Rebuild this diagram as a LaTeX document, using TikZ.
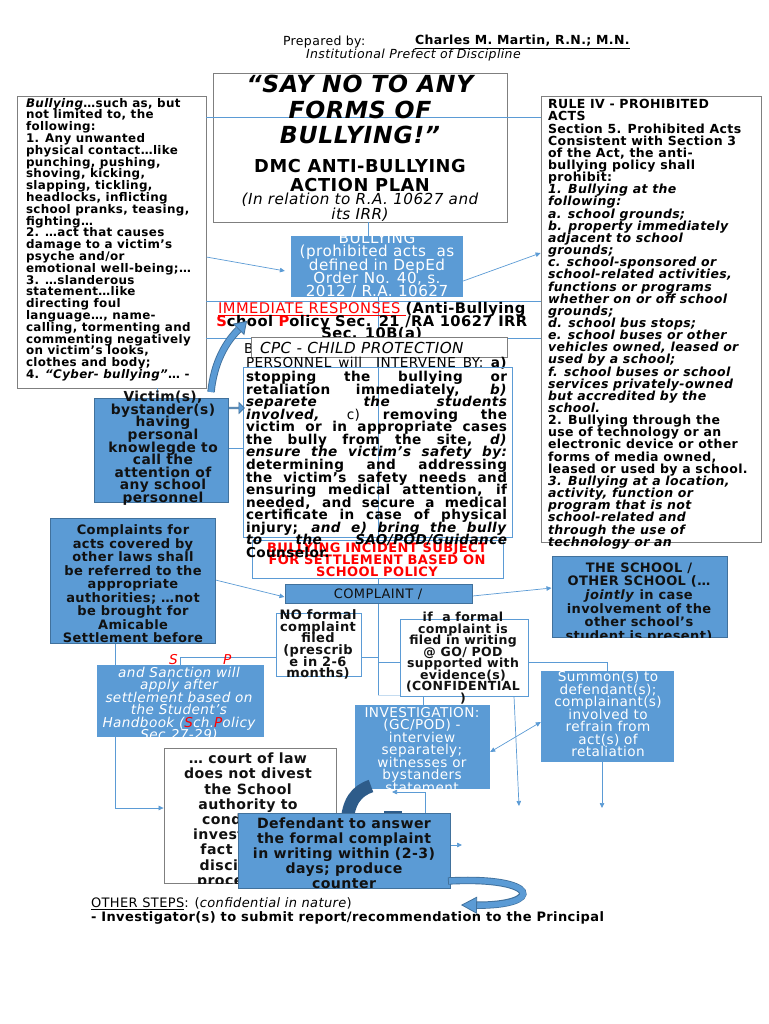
\documentclass[tikz,border=0pt]{standalone}
\usepackage{fontspec}
\setmainfont{DejaVu Sans}[LetterSpace=3]
\usetikzlibrary{arrows.meta,shapes.arrows}
\definecolor{bfill}{HTML}{5B9BD5}
\definecolor{bdark}{HTML}{41719C}
\definecolor{lnc}{HTML}{5B9BD5}
\definecolor{gbord}{HTML}{7F7F7F}
\definecolor{txtd}{HTML}{111111}
\definecolor{arcd}{HTML}{2E5C8A}
\definecolor{redt}{HTML}{FF0000}
\pgfdeclarelayer{bgbox}
\pgfdeclarelayer{lines}
\pgfsetlayers{bgbox,lines,main}
\newcommand{\fz}[2]{\fontsize{#1}{#2}\selectfont\lineskiplimit=-50pt\relax}
\newcommand{\mkbox}[6]{\node[#1, minimum width={#5-#3}, minimum height={#6-#4}] (#2) at ({(#3+#5)/2},{(#4+#6)/2}) {};}
\tikzset{
  wbox/.style={rectangle, draw=gbord, fill=white, line width=0.8pt, inner sep=0},
  bbox/.style={rectangle, fill=bfill, draw=none, inner sep=0},
  bboxd/.style={rectangle, fill=bfill, draw=bdark, line width=1pt, inner sep=0},
  lbbox/.style={rectangle, fill=white, draw=lnc, line width=0.8pt, inner sep=0},
  obox/.style={rectangle, draw=lnc, line width=0.8pt, inner sep=0},
  conn/.style={draw=lnc, line width=0.7pt},
  arr/.style={conn, -{Triangle[length=5pt,width=4.5pt]}},
  arrtwo/.style={conn, {Triangle[length=5pt,width=4.5pt]}-{Triangle[length=5pt,width=4.5pt]}},
  tx/.style={inner sep=0, outer sep=0},
}
\begin{document}
\begin{tikzpicture}[x=1pt,y=-1pt]
\useasboundingbox (0,0) rectangle (768,1024);

\begin{pgfonlayer}{bgbox}
\fill[white] (0,0) rectangle (768,1024);
\mkbox{wbox}{title}{213}{73}{507}{222}
\mkbox{wbox}{lbox}{17}{96}{206}{388}
\mkbox{wbox}{rbox}{541}{96}{761}{542}
\end{pgfonlayer}

% ---------- header ----------
\node[tx, anchor=west, font=\fz{12.5}{13}] (prep) at (283,42) {Prepared by:};
\node[tx, anchor=west, font=\bfseries\fz{12.5}{13}] (auth) at (415,42) {\underline{Charles M. Martin, R.N.; M.N.}};
\node[tx, anchor=west, font=\itshape\fz{12.5}{13}] (inst) at (306,55) {Institutional Prefect of Discipline};

% ---------- title ----------
\node[tx, anchor=north, align=center, font=\bfseries\itshape\fz{23.5}{25.5}] (t1) at (360,75.5) {“SAY NO TO ANY\\FORMS OF\\BULLYING!”};
\node[tx, anchor=north, align=center, font=\bfseries\fz{17.8}{19}] (t2) at (360,158.8) {DMC ANTI-BULLYING\\ACTION PLAN};
\node[tx, anchor=north, align=center, font=\itshape\fz{15.2}{15}] (t3) at (360,193.2) {(In relation to R.A. 10627 and\\its IRR)};

% ---------- left box text ----------
\begin{scope}
\clip (lbox.south west) rectangle (lbox.north east);
\node[tx, anchor=north west, align=left, font=\bfseries\fz{11.9}{11.8}] (lboxt) at (26,98) {\textit{Bullying}…such as, but\\not limited to, the\\following:\\1. Any unwanted\\physical contact…like\\punching, pushing,\\shoving, kicking,\\slapping, tickling,\\headlocks, inflicting\\school pranks, teasing,\\fighting…\\2. …act that causes\\damage to a victim’s\\psyche and/or\\emotional well-being;…\\3. …slanderous\\statement…like\\directing foul\\language…, name-\\calling, tormenting and\\commenting negatively\\on victim’s looks,\\clothes and body;\\4. \textit{“Cyber- bullying”}… -};
\end{scope}

% ---------- right box text ----------
\node[tx, anchor=north west, align=left, font=\bfseries\fz{12.5}{12.15}] (rboxt) at (548,99.5) {RULE IV - PROHIBITED\\ACTS\\Section 5. Prohibited Acts\\Consistent with Section 3\\of the Act, the anti-\\bullying policy shall\\prohibit:\\\textit{1. Bullying at the}\\\textit{following:}\\\textit{a. school grounds;}\\\textit{b. property immediately}\\\textit{adjacent to school}\\\textit{grounds;}\\\textit{c. school-sponsored or}\\\textit{school-related activities,}\\\textit{functions or programs}\\\textit{whether on or off school}\\\textit{grounds;}\\\textit{d. school bus stops;}\\\textit{e. school buses or other}\\\textit{vehicles owned, leased or}\\\textit{used by a school;}\\\textit{f. school buses or school}\\\textit{services privately-owned}\\\textit{but accredited by the}\\\textit{school.}\\2. Bullying through the\\use of technology or an\\electronic device or other\\forms of media owned,\\leased or used by a school.\\\textit{3. Bullying at a location,}\\\textit{activity, function or}\\\textit{program that is not}\\\textit{school-related and}\\\textit{through the use of}\\\textit{technology or an}};

% ---------- bullying box ----------
\mkbox{bbox}{bul}{291}{236}{463}{297}
\node[tx, anchor=north, align=center, text=white, font=\fz{15.2}{13.4}] (bult) at (377,232) {BULLYING\\(prohibited acts\ \ as\\defined in DepEd\\Order No. 40, s.\\2012 / R.A. 10627};

% ---------- immediate responses ----------
\node[tx, anchor=north, align=center, font=\fz{14.7}{12.5}] (imm) at (372,302.8) {\textcolor{redt}{\underline{IMMEDIATE RESPONSES\ }}\textbf{(Anti-Bullying}\\\textbf{\textcolor{redt}{S}chool \textcolor{redt}{P}olicy Sec. 21 /RA 10627 IRR}\\\textbf{Sec. 10B(a)}};

% ---------- CPC ----------
\node[tx, anchor=west, font=\fz{13.6}{13}] (bt) at (244,349) {B};
\mkbox{wbox}{cpch}{251}{337}{507}{357}
\node[tx, anchor=west, font=\itshape\fz{15.2}{15}] (cpcht) at (260,347.5) {CPC - CHILD PROTECTION};
\node[tx, anchor=west, font=\fz{13.6}{13}] (pers) at (246,363) {\makebox[261pt][s]{PERSONNEL will\ \ INTERVENE BY: \textbf{a)}}};
\mkbox{obox}{cpcb}{243}{367}{512}{537}

% bullying incident box
\mkbox{lbbox}{bis}{252}{540}{503}{578}
\node[tx, anchor=north, align=center, text=redt, font=\bfseries\fz{13}{12}] (bist) at (377,542.7) {BULLYING INCIDENT SUBJECT\\FOR SETTLEMENT BASED ON\\SCHOOL POLICY};

\node[tx, anchor=north west, align=left, font=\bfseries\fz{13.6}{12.55}] (cpct) at (246,371.3) {%
\makebox[261pt][s]{stopping the bullying or}\\
\makebox[261pt][s]{retaliation immediately, \textit{b)}}\\
\makebox[261pt][s]{\itshape separete the students}\\
\makebox[261pt][s]{\textit{involved,} \textmd{c)} removing the}\\
\makebox[261pt][s]{victim or in appropriate cases}\\
\makebox[261pt][s]{the bully from the site, \textit{d)}}\\
\makebox[261pt][s]{\itshape ensure the victim's safety by:}\\
\makebox[261pt][s]{determining and addressing}\\
\makebox[261pt][s]{the victim's safety needs and}\\
\makebox[261pt][s]{ensuring medical attention, if}\\
\makebox[261pt][s]{needed, and secure a medical}\\
\makebox[261pt][s]{certificate in case of physical}\\
\makebox[261pt][s]{injury; \textit{and e) bring the bully}}\\
\makebox[261pt][s]{\itshape to the SAO/POD/Guidance}\\
Counselor.};

% ---------- victim ----------
\mkbox{bboxd}{vic}{94}{398}{228}{502}
\node[tx, anchor=north, align=center, text=txtd, font=\bfseries\fz{13.8}{12.6}] (vict) at (163,391.2) {Victim(s),\\bystander(s)\\having\\personal\\knowlegde to\\call the\\attention of\\any school\\personnel};
\node[single arrow, fill=bfill, draw=bdark, line width=0.6pt, minimum height=16pt, minimum width=11pt, single arrow head extend=2pt, inner sep=0] (varr) at (236,408) {};

% ---------- complaints ----------
\mkbox{bboxd}{cmp}{50}{518}{215}{643}
\begin{scope}
\clip (cmp.south west) rectangle (cmp.north east);
\node[tx, anchor=north, align=center, text=txtd, font=\bfseries\fz{13}{13.5}] (cmpt) at (133,525) {Complaints for\\acts covered by\\other laws shall\\be referred to the\\appropriate\\authorities; …not\\be brought for\\Amicable\\Settlement before\\the};
\end{scope}

% ---------- complaint / ----------
\mkbox{bboxd}{cpl}{285}{584}{472}{603}
\node[tx, text=txtd, font=\fz{13}{13}] (cplt) at (378,594) {COMPLAINT /};

% ---------- no formal ----------
\mkbox{lbbox}{nof}{276}{613}{361}{676}
\node[tx, anchor=north, align=center, text=txtd, font=\bfseries\fz{13}{11.7}] (noft) at (318,609.6) {NO formal\\complaint\\filed\\(prescrib\\e in 2-6\\months)};

% ---------- formal ----------
\mkbox{lbbox}{frm}{400}{619}{528}{696}
\node[tx, anchor=north, align=center, text=txtd, font=\bfseries\fz{12.5}{11.5}] (frmt) at (463,612.1) {if\ \ a formal\\complaint is\\filed in writing\\@ GO/ POD\\supported with\\evidence(s)\\(CONFIDENTIAL\\)};

% ---------- the school ----------
\mkbox{bboxd}{sch}{552}{556}{727}{637}
\begin{scope}
\clip (sch.south west) rectangle (sch.north east);
\node[tx, anchor=north, align=center, text=txtd, font=\bfseries\fz{13}{13.7}] (scht) at (639,562.5) {THE SCHOOL /\\OTHER SCHOOL (…\\\textit{jointly} in case\\involvement of the\\other school’s\\student is present)};
\end{scope}

% ---------- summon ----------
\mkbox{bbox}{sum}{541}{671}{674}{762}
\node[tx, anchor=north, align=center, text=white, font=\fz{13.6}{12.45}] (sumt) at (608,671.5) {Summon(s) to\\defendant(s);\\complainant(s)\\involved to\\refrain from\\act(s) of\\retaliation};

% ---------- sanction ----------
\mkbox{bbox}{san}{97}{665}{264}{737}
\node[tx, anchor=base west, text=redt, font=\itshape\fz{13.6}{13}] (sants) at (169,664) {S};
\node[tx, anchor=base west, text=redt, font=\itshape\fz{13.6}{13}] (santp) at (223,664) {P};
\begin{scope}
\clip (san.south west) rectangle (san.north east);
\node[tx, anchor=north, align=center, text=white, font=\itshape\fz{13.6}{12.5}] (sant) at (179,667) {and Sanction will\\apply after\\settlement based on\\the Student's\\Handbook (\textcolor{redt}{S}ch.\textcolor{redt}{P}olicy\\Sec.27-29)};
\end{scope}

% ---------- investigation ----------
\mkbox{bbox}{inv}{355}{705}{490}{789}
\begin{scope}
\clip (inv.south west) rectangle (inv.north east);
\node[tx, anchor=north, align=center, text=white, font=\fz{13.6}{12.55}] (invt) at (422,707) {INVESTIGATION:\\(GC/POD) -\\interview\\separately;\\witnesses or\\bystanders\\statement};
\end{scope}

% ---------- court ----------
\mkbox{wbox}{crt}{164}{748}{336}{883}
\begin{scope}
\clip (crt.south west) rectangle (crt.north east);
\node[tx, anchor=north, align=center, text=txtd, font=\bfseries\fz{14.1}{15.2}] (crtt) at (248,753) {… court of law\\does not divest\\the School\\authority to\\conduct its\\investigation\\fact finding\\disciplinary\\proceedings};
\end{scope}

% dark curved arrow (mostly hidden)
\draw[arcd, line width=13pt] (347,824) .. controls (348,802) and (356,791) .. (371,786);
\draw[arcd, line width=3pt] (384,812) -- (402,812);

% ---------- defendant ----------
\mkbox{bboxd}{def}{238}{813}{450}{888}
\begin{scope}
\clip (def.south west) rectangle (def.north east);
\node[tx, anchor=north, align=center, text=txtd, font=\bfseries\fz{14.1}{15}] (deft) at (344,818) {Defendant to answer\\the formal complaint\\in writing within (2-3)\\days; produce\\counter};
\end{scope}

% ---------- other steps ----------
\node[tx, anchor=west, font=\fz{13}{13}] (os1) at (91,904) {\underline{OTHER STEPS}: (\textit{confidential in nature})};
\node[tx, anchor=west, font=\bfseries\fz{13}{13}] (os2) at (91,918) {- Investigator(s) to submit report/recommendation to the Principal};

% ---------- curved block arrows ----------
\draw[bdark, line width=7.4pt, shorten >=12pt] (211,392) .. controls (214,362) and (226,342) .. (247,321);
\draw[bfill, line width=5.6pt, -{Triangle[length=12pt,width=16pt,fill=bfill,color=bdark,line width=0.8pt]}] (211,392) .. controls (214,362) and (226,342) .. (247,321);
\draw[bdark, line width=7.4pt, shorten >=14pt] (448,881) .. controls (540,876) and (545,906) .. (461,905);
\draw[bfill, line width=5.6pt, -{Triangle[length=16pt,width=17pt,fill=bfill,color=bdark,line width=0.8pt]}] (449,881) .. controls (540,876) and (545,906) .. (461,905);

% ---------- connectors ----------
\begin{pgfonlayer}{lines}
\coordinate (e1) at (519,806);
\coordinate (e2) at (602,808);
\coordinate (e3) at (462,845);
\coordinate (e4) at (392,792);
\draw[conn] (lbox.east |- 0,117) -- (rbox.west |- 0,117);
\draw[conn] (title.south -| 368,0) -- (bul.north -| 368,0);
\draw[arr, shorten >=6pt] (lbox.east |- 0,257) -- (bul.west |- 0,272);
\draw[arr] (bul.east |- 0,281) -- (rbox.west |- 0,253);
\draw[conn] (lbox.east |- 0,301) -- (rbox.west |- 0,301);
\draw[conn] (lbox.east |- 0,338) -- (rbox.west |- 0,338);
\draw[conn] (bul.south -| 378,0) -- (bis.north -| 378,0);
\draw[conn] (lbox.south -| 157,0) -- (vic.north -| 157,0);
\draw[conn] (vic.east |- 0,448) -- (cpcb.west |- 0,448);
\draw[arr] (cmp.east |- 0,580) -- (cpl.west |- 0,597);
\draw[conn] (bis.south -| 378,0) -- (cpl.north -| 378,0);
\draw[arr] (cpl.east |- 0,596) -- (sch.west |- 0,588);
\draw[conn] (cpl.south -| 378,0) -- (378,695);
\draw[conn] (378,657) -- (180,657) -- (san.north -| 180,0);
\draw[conn] (378,662) -- (607,662) -- (sum.north -| 607,0);
\draw[conn, draw opacity=0.35] (378,695) -- (frm.west |- 0,695);
\draw[conn] (frm.south -| 423,0) -- (inv.north -| 423,0);
\draw[arr] (frm.south -| 514,0) -- (e1);
\draw[arr] (sum.south -| 602,0) -- (e2);
\draw[arrtwo] (inv.east |- 0,752) -- (sum.west |- 0,722);
\draw[arr] (cmp.south -| 115,0) |- (crt.west |- 0,808);
\draw[arr] (def.north -| 425,0) |- (e4);
\draw[arr] (def.east |- 0,845) -- (e3);
\end{pgfonlayer}
\end{tikzpicture}
\end{document}
